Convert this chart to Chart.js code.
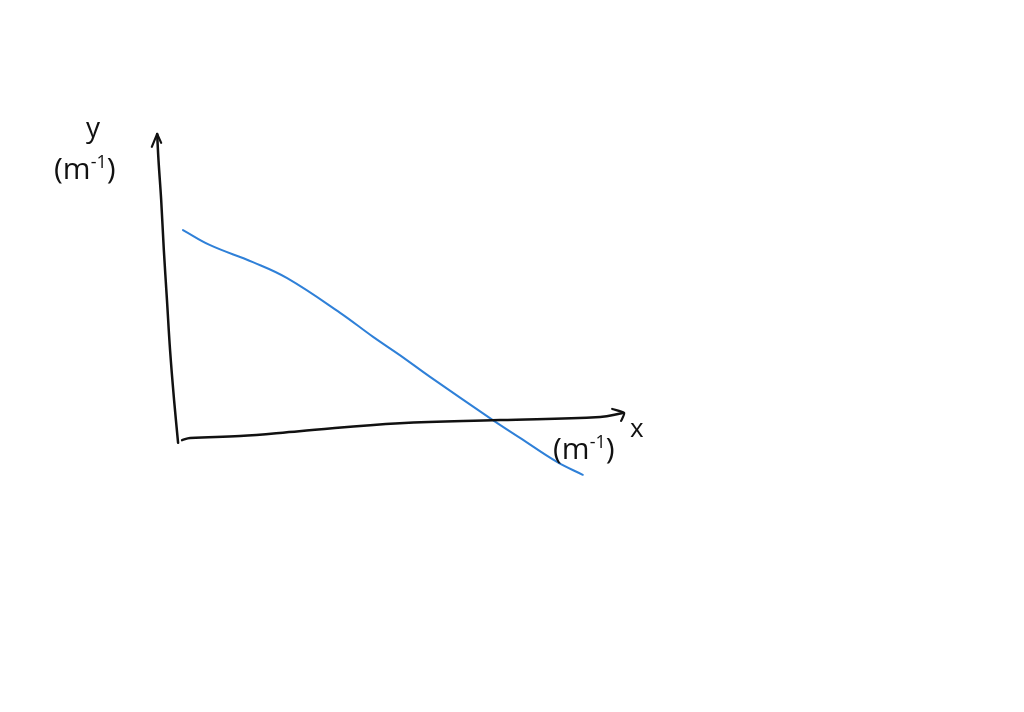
<!DOCTYPE html>
<html>
<head>
<meta charset="utf-8">
<script src="https://cdn.jsdelivr.net/npm/chart.js@4"></script>
<style>
  html, body { margin: 0; padding: 0; background: #ffffff; }
  #wrap { position: relative; width: 1024px; height: 712px; }
  .lbl { position: absolute; font-family: "Open Sans", sans-serif; color: #111; line-height: 1; white-space: nowrap; }
  .lbl sup { font-size: 60%; vertical-align: 0.6em; }
</style>
</head>
<body>
<div id="wrap">
  <canvas id="c" width="1024" height="712"></canvas>
  <div class="lbl" style="left:86px; top:112px; font-size:28px;">y</div>
  <div class="lbl" style="left:54px; top:152px; font-size:30px;">(m<sup>-1</sup>)</div>
  <div class="lbl" style="left:553px; top:432px; font-size:30px;">(m<sup>-1</sup>)</div>
  <div class="lbl" style="left:630px; top:414px; font-size:26px;">x</div>
</div>
<script>
// Curve (blue), in chart units
const curveX = [0.11, 0.72, 1.68, 2.45, 3.64, 4.38, 4.98, 5.66, 7.07, 7.68, 8.51, 9.09];
const curveY = [4.63, 4.29, 3.91, 3.55, 2.77, 2.23, 1.82, 1.33, 0.36, -0.04, -0.58, -0.87];

// Hand-drawn vertical axis
const yAxisX = [0.0, -0.09, -0.18, -0.25, -0.32, -0.38, -0.44, -0.47];
const yAxisY = [-0.15, 0.81, 1.93, 3.06, 4.18, 5.31, 6.20, 6.79];
const yArrowX = [-0.59, -0.47, -0.38];
const yArrowY = [6.50, 6.79, 6.59];

// Hand-drawn horizontal axis
const xAxisX = [0.09, 0.27, 1.39, 2.72, 4.98, 7.23, 9.48, 9.99];
const xAxisY = [-0.09, -0.04, 0.0, 0.11, 0.29, 0.36, 0.43, 0.52];
const xArrowX = [9.75, 10.02, 9.95];
const xArrowY = [0.61, 0.52, 0.34];

function pts(xs, ys) { return xs.map((x, i) => ({ x: x, y: ys[i] })); }

function lineSet(xs, ys, color, width, tension) {
  return {
    data: pts(xs, ys),
    showLine: true,
    borderColor: color,
    borderWidth: width,
    pointRadius: 0,
    tension: tension,
    fill: false,
    borderCapStyle: 'round',
    borderJoinStyle: 'round'
  };
}

new Chart(document.getElementById('c'), {
  type: 'scatter',
  data: {
    datasets: [
      lineSet(yAxisX, yAxisY, '#111111', 2.5, 0.4),
      lineSet(yArrowX, yArrowY, '#111111', 2.2, 0),
      lineSet(xAxisX, xAxisY, '#111111', 2.5, 0.4),
      lineSet(xArrowX, xArrowY, '#111111', 2.2, 0.2),
      lineSet(curveX, curveY, '#2f80d8', 2, 0.4)
    ]
  },
  options: {
    responsive: false,
    animation: false,
    layout: { padding: 0 },
    plugins: { legend: { display: false }, tooltip: { enabled: false } },
    scales: {
      x: { type: 'linear', min: -4, max: 19, display: false },
      y: { type: 'linear', min: -6.2, max: 9.8, display: false }
    }
  }
});
</script>
</body>
</html>
